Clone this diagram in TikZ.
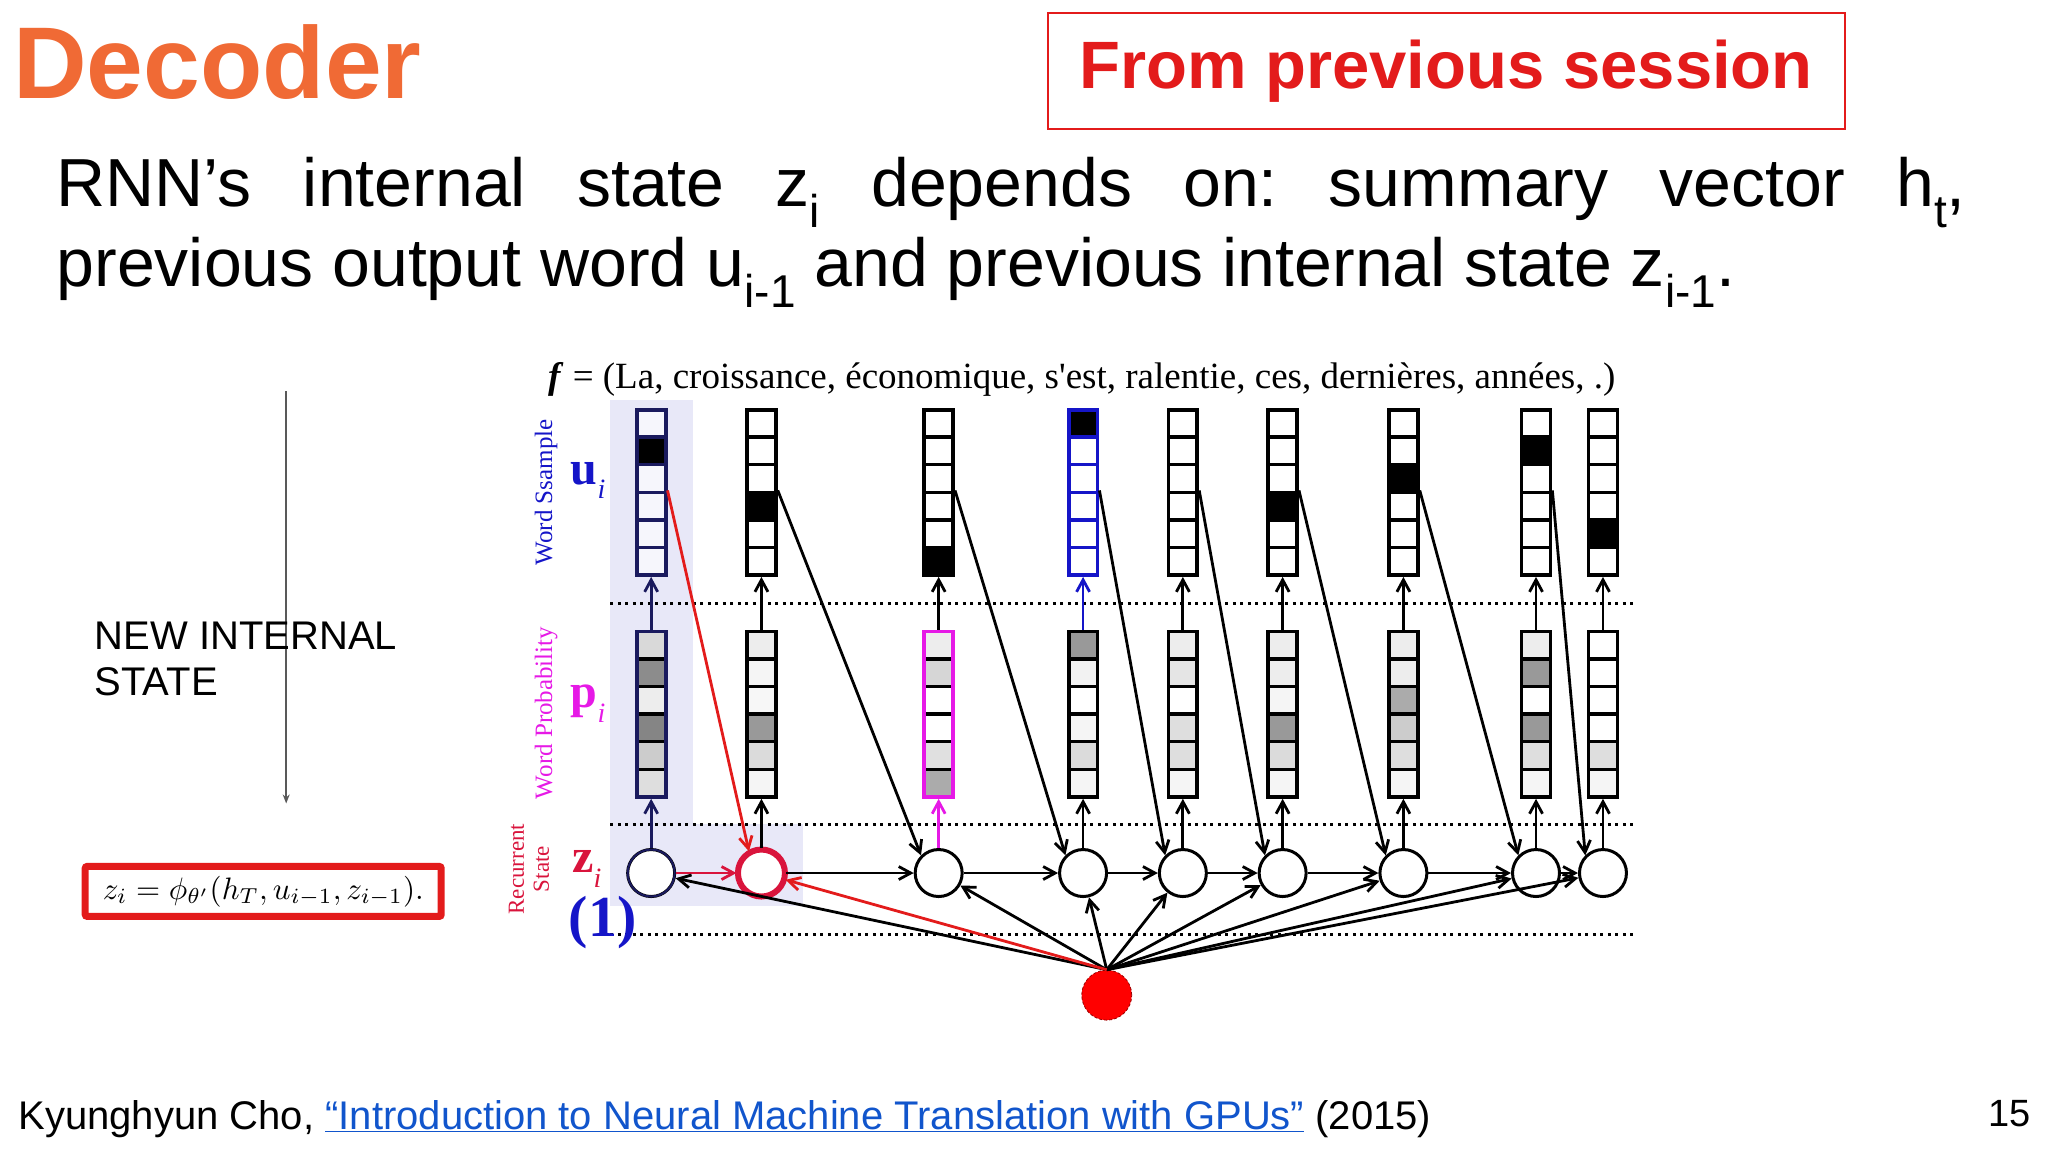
\documentclass[tikz,border=0pt]{standalone}
\usepackage{fontspec}
\setmainfont{Liberation Sans}
\newfontfamily\serifx{Liberation Serif}
\usetikzlibrary{arrows.meta,calc}
\definecolor{decor}{HTML}{F06A35}
\definecolor{prevred}{HTML}{E31B1B}
\definecolor{navy}{HTML}{1A1A5E}
\definecolor{bblue}{HTML}{1515C8}
\definecolor{mag}{HTML}{E619E6}
\definecolor{crim}{HTML}{D9143C}
\definecolor{bgshade}{HTML}{E8E8F8}
\definecolor{linkb}{HTML}{1155CC}
\newcommand\sbx[1]{\raisebox{-0.32em}{\fontsize{46}{46}\selectfont #1}}
\newcommand\vlab[1]{{\bfseries #1}\raisebox{-0.3em}{\fontsize{28}{28}\selectfont\itshape i}}
\begin{document}
\begin{tikzpicture}[x=1.3128pt,y=-1.3128pt,
  arr/.style={-{Straight Barb[length=12pt,width=13pt]},line width=2.8pt},
  cellbox/.style={draw,line width=3.8pt,minimum width=28.9pt,minimum height=165.4pt,inner sep=0pt},
  zc/.style={circle,draw,line width=3pt,fill=white,minimum size=47pt,inner sep=0pt},
  dots/.style={line width=3pt,dash pattern=on 3pt off 4.5pt}]
\useasboundingbox (0,0) rectangle (1560,877.5);
% titles
\node[anchor=base west,inner sep=0,text=decor,font=\bfseries\fontsize{102}{102}\selectfont] (title) at (10,75) {Decoder};
\node[draw=prevred,line width=2pt,minimum width=797pt,minimum height=115.5pt,text=prevred,font=\bfseries\fontsize{67}{67}\selectfont] (prev) at (1101.5,54) {From previous session};
\node[anchor=base west,inner sep=0,font=\fontsize{68}{68}\selectfont] (l1) at (43,157) {\hbox to 1909pt{RNN’s\hfill internal\hfill state\hfill z\sbx{i}\hfill depends\hfill on:\hfill summary\hfill vector\hfill h\sbx{t},}};
\node[anchor=base west,inner sep=0,font=\fontsize{68}{68}\selectfont] (l2) at (43,218) {previous output word u\sbx{i-1} and previous internal state z\sbx{i-1}.};
% left
\coordinate (va) at (218,298); \coordinate (vb) at (218,612);
\draw[gray!70!black,line width=1.4pt,-{Stealth[length=9pt,width=7pt]}] (va) -- (vb);
\node[anchor=base west,inner sep=0,font=\fontsize{40}{46}\selectfont,align=left] (nis) at (72,530) {NEW INTERNAL\\STATE};
\node[draw=prevred,line width=7pt,rounded corners=2pt,minimum width=356pt,minimum height=50pt] (form) at (200.5,679) {\scalebox{3.1}{$z_i=\phi_{\theta'}(h_T,u_{i-1},z_{i-1}).$}};
% shading
\fill[bgshade] (465,305) rectangle (528,628);
\fill[bgshade] (465,628) rectangle (612,690);
% sentence
\node[anchor=base,inner sep=0,font=\serifx\fontsize{37}{37}\selectfont] (f) at (824,296) {\textit{\textbf{f}} = (La, croissance, économique, s'est, ralentie, ces, dernières, années, .)};
% dotted lines
\draw[dots] (465,460) -- (1245,460);
\draw[dots] (465,628) -- (1245,628);
\draw[dots] (465,712) -- (1245,712);
% labels
\node[rotate=90,text=bblue,font=\serifx\fontsize{25}{25}\selectfont] (ws) at (416,375) {Word Ssample};
\node[text=bblue,font=\serifx\fontsize{48}{48}\selectfont] (ul) at (448,366) {\vlab{u}};
\node[rotate=90,text=mag,font=\serifx\fontsize{25}{25}\selectfont] (wp) at (416,543) {Word Probability};
\node[text=mag,font=\serifx\fontsize{48}{48}\selectfont] (pl) at (448,536) {\vlab{p}};
\node[rotate=90,text=crim,font=\serifx\fontsize{23}{25}\selectfont,align=center] (rs) at (403,662) {Recurrent\\State};
\node[text=crim,font=\serifx\fontsize{48}{48}\selectfont] (zl) at (447,662) {\vlab{z}};
\node[text=bblue,font=\serifx\bfseries\fontsize{58}{58}\selectfont] (one) at (459,703) {(1)};
% columns
\foreach \i/\x/\ub/\pls/\uc/\pc in {
 1/496/1/{15,45,7,48,20,13}/navy/navy,
 2/580/3/{7,4,3,40,14,4}/black/black,
 3/715/5/{7,16,0,0,12,33}/black/mag,
 4/825/0/{40,5,0,4,14,4}/bblue/black,
 5/901/9/{7,10,0,13,13,4}/black/black,
 6/977/3/{7,7,4,40,14,4}/black/black,
 7/1069/2/{7,7,33,20,13,4}/black/black,
 8/1170/1/{7,40,0,40,13,4}/black/black,
 9/1221/4/{0,0,0,0,13,4}/black/black}{
  \foreach \v [count=\k from 0] in \pls {
    \fill[black!\v] (\x-11,481+21*\k) rectangle ++(22,21);
  }
  \ifnum\i=1
    \fill[bgshade!40!white] (\x-11,312) rectangle (\x+11,438);
  \else
    \fill[white] (\x-11,312) rectangle (\x+11,438);
  \fi
  \ifnum\ub<6
    \fill[black] (\x-11,312+21*\ub) rectangle ++(22,21);
  \fi
  \foreach \k in {1,...,5} {
    \draw[line width=3.4pt,draw=black] (\x-11,481+21*\k) -- ++(22,0);
    \draw[line width=3.4pt,draw=\uc] (\x-11,312+21*\k) -- ++(22,0);
  }
  \node[cellbox,draw=\uc] (u\i) at (\x,375) {};
  \node[cellbox,draw=\pc] (p\i) at (\x,544) {};
  \node[zc] (z\i) at (\x,665) {};
}
\node[zc,draw=navy,line width=2pt,fill=none] at (z1) {};
\node[zc,draw=crim,line width=6pt,fill=none] at (z2) {};
\node[circle,fill=red,draw=red!60!black,densely dashed,line width=0.8pt,minimum width=46pt,minimum height=50pt,inner sep=0pt] (h) at (843,758) {};
% vertical arrows
\foreach \i in {2,5,6,7,8,9}{
  \draw[arr] (p\i) -- (u\i);
  \draw[arr] (z\i) -- (p\i);
}
\draw[arr,draw=navy] (p1) -- (u1);
\draw[arr,draw=navy] (z1) -- (p1);
\draw[arr] (p3) -- (u3);
\draw[arr,draw=mag] (z3) -- (p3);
\draw[arr,draw=bblue] (p4) -- (u4);
\draw[arr] (z4) -- (p4);
% horizontal
\draw[arr,draw=crim] (z1) -- (z2);
\foreach \i/\j in {2/3,3/4,4/5,5/6,6/7,7/8,8/9}{
  \draw[arr] (z\i) -- (z\j);
  \draw[arr] ($(u\i.north east)+(0,63)$) -- (z\j.135);
}
\draw[arr,draw=prevred] ($(u1.north east)+(0,63)$) -- (z2.120);
% from h
\foreach \i in {1,3,4,5,6,7,8,9}{
  \draw[arr] (h.north) -- (z\i);
}
\draw[arr,draw=prevred] (h.north) -- (z2);
% footer
\node[anchor=base west,inner sep=0,font=\fontsize{40}{40}\selectfont] (foot) at (14,860) {Kyunghyun Cho, {\color{linkb}\underline{“Introduction to Neural Machine Translation with GPUs”}} (2015)};
\node[anchor=base east,inner sep=0,font=\fontsize{38}{38}\selectfont] (pg) at (1547,858) {15};
\end{tikzpicture}
\end{document}
